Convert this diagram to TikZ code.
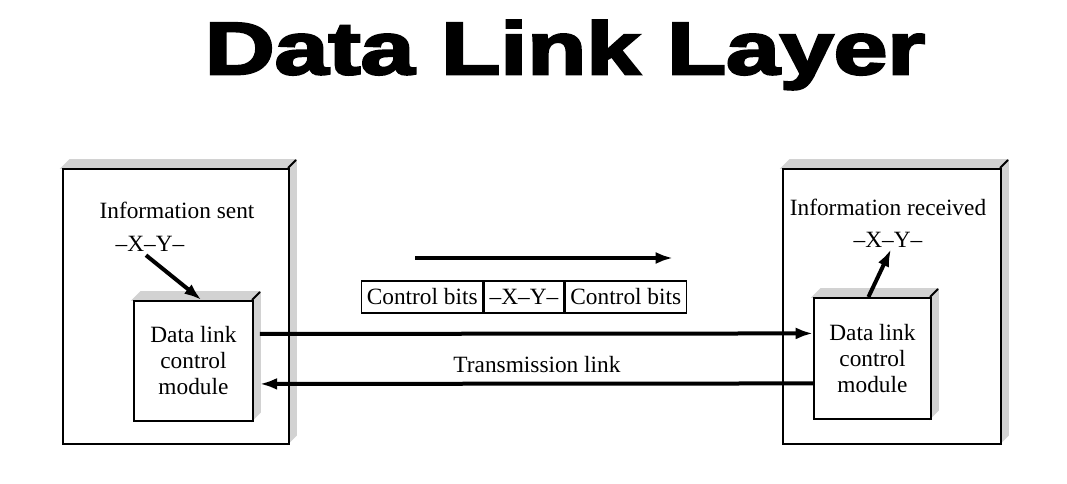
\documentclass[tikz,border=0pt]{standalone}
\usepackage{fontspec}
\setmainfont{Liberation Serif}
\newfontfamily\titlefont[FakeBold=3]{Liberation Sans Bold}
\usetikzlibrary{arrows.meta,calc}
\tikzset{
  face/.style={draw,line width=1.4pt,fill=white},
  lbl/.style={font=\fontsize{17.5}{19.5}\selectfont,align=center,inner sep=1pt},
  link/.style={line width=3pt,-{Latex[length=13pt,width=9pt]}},
  cell/.style={draw,line width=1pt,font=\fontsize{17.5}{19.5}\selectfont,minimum height=24pt,inner sep=4pt}
}
\newcommand{\boxthree}[5]{%
  \fill[gray!35,draw,line width=1.4pt] (#2,#3) -- ++(8,-8) -- (#4+8,#3-8) -- (#4+8,#5-8) -- (#4,#5) -- (#4,#3) -- cycle;
  \draw[line width=1.4pt] (#4,#3) -- (#4+8,#3-8);
  \node[face,minimum width={(#4-#2)*0.75pt},minimum height={(#5-#3)*0.75pt},inner sep=0pt,anchor=north west] (#1) at (#2,#3) {};
}
\begin{document}
\begin{tikzpicture}[x=0.75pt,y=-0.75pt]
\useasboundingbox (0,0) rectangle (1067,484);
\node[inner sep=0pt] (title) at (565,55) {\titlefont\resizebox*{540pt}{52pt}{Data Link Layer}};
\boxthree{L}{62}{168}{288}{443}
\boxthree{R}{782}{168}{1000}{443}
\boxthree{lm}{133}{300}{252}{420}
\boxthree{rm}{813}{297}{930}{418}
\node[lbl] (ls) at (177,210) {Information sent};
\node[lbl] (lx) at (150,244) {–X–Y–};
\node[lbl] (rs) at (888,207) {Information received};
\node[lbl] (rx) at (888,240) {–X–Y–};
\node[lbl] at (lm) {Data link\\control\\module};
\node[lbl] at (rm) {Data link\\control\\module};
\draw[link] ($(lx.south)+(-4,2)$) -- ($(lm.north)+(8,0)$);
\draw[link] ($(rm.north)+(-4,0)$) -- ($(rx.south)+(3,0)$);
\coordinate (a1) at ($(lm.east)+(6,-27)$);
\coordinate (a2) at ($(rm.west)+(0,-25)$);
\coordinate (b1) at ($(lm.east)+(6,23)$);
\coordinate (b2) at ($(rm.west)+(0,25)$);
\draw[link] (a1) -- (a2);
\draw[link] (b2) -- (b1);
\node[lbl] (tl) at (537,365) {Transmission link};
\node[cell,anchor=center] (c2) at (524,297) {–X–Y–};
\node[cell,anchor=east] (c1) at (c2.west) {Control bits};
\node[cell,anchor=west] (c3) at (c2.east) {Control bits};
\coordinate (d1) at (415,258);
\coordinate (d2) at (673,258);
\draw[link] (d1) -- (d2);
\end{tikzpicture}
\end{document}
